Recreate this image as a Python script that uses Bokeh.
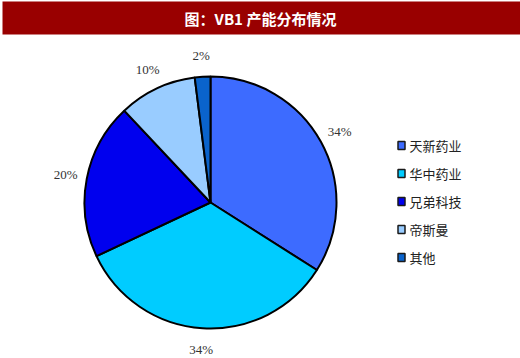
import numpy as np
from bokeh.plotting import figure
from bokeh.models import Range1d, ColumnDataSource
from bokeh.core.properties import value
from bokeh.embed import file_html
from bokeh.resources import INLINE

title = "图：VB1 产能分布情况"
categories = ["天新药业", "华中药业", "兄弟科技", "帝斯曼", "其他"]
shares = [34, 34, 20, 10, 2]
labels = ["34%", "34%", "20%", "10%", "2%"]
colors = ["#3d6bff", "#00ccff", "#0000ee", "#99ccff", "#0a63cc"]

W, H = 520, 358
p = figure(width=W, height=H, output_backend="svg", toolbar_location=None,
           x_range=Range1d(0, W), y_range=Range1d(H, 0),
           min_border=0, outline_line_color=None)
p.axis.visible = False
p.grid.visible = False
p.background_fill_color = "white"
p.border_fill_color = "white"

# title banner
p.quad(left=[2], right=[W], top=[1], bottom=[34], fill_color="#990000", line_color=None)
p.text(x=[W / 2], y=[17.5], text=[title], text_color="white", text_align="center",
       text_baseline="middle", text_font=value("Noto Sans CJK SC"),
       text_font_size="15px", text_font_style="bold")

# pie
cx, cy, R = 210, 202, 126
vals = np.array(shares, dtype=float)
frac = vals / vals.sum()
cum = np.concatenate([[0], np.cumsum(frac)])
# screen angles (y axis flipped): start at top, go clockwise visually
start = np.deg2rad(-90 + cum[:-1] * 360)
end = np.deg2rad(-90 + cum[1:] * 360)
src = ColumnDataSource(dict(start=-start, end=-end, color=colors))
p.wedge(x=cx, y=cy, radius=R, start_angle="start", end_angle="end",
        direction="clock", fill_color="color", line_color="black",
        line_width=2, source=src)

mid = (start + end) / 2
LR = R * 1.17
lx = cx + LR * np.cos(mid)
ly = cy + LR * np.sin(mid)
p.text(x=lx, y=ly, text=labels, text_align="center", text_baseline="middle",
       text_font=value("Liberation Serif"), text_font_size="13px", text_color="#333333")

# legend
ys = 145 + 28 * np.arange(len(categories))
p.rect(x=[401] * len(categories), y=ys, width=7, height=8, fill_color=colors,
       line_color="#1a1a1a", line_width=1.5)
p.text(x=[409] * len(categories), y=ys, text=categories, text_baseline="middle",
       text_font=value("Noto Sans CJK SC"), text_font_size="13px", text_color="#222222")

open("out.html", "w").write(file_html(p, INLINE))
